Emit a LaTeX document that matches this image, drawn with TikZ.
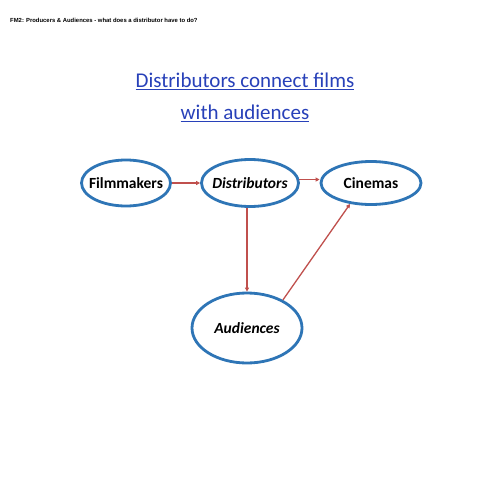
\documentclass[tikz,border=0pt]{standalone}
\usepackage{fontspec}
\setmainfont{Carlito}
\newfontfamily\hdrfont{Liberation Sans}
\usetikzlibrary{shapes.geometric,arrows.meta}
\definecolor{ovalblue}{RGB}{46,117,182}
\definecolor{linkred}{RGB}{192,80,77}
\definecolor{headblue}{RGB}{40,65,185}
\begin{document}
\begin{tikzpicture}[x=1pt, y=-1pt,
        oval/.style={ellipse, draw=ovalblue, line width=2.8pt, inner xsep=-6pt, inner ysep=0pt, font=\fontsize{15.5}{18}\selectfont\bfseries},
        link/.style={draw=linkred, line width=1.3pt, -{Triangle[length=4pt,width=4pt]}}]
        \useasboundingbox[fill=white] (0,0) rectangle (495,495);
        \node[anchor=base west, inner sep=0pt, font=\hdrfont\bfseries\fontsize{5.9}{7}\selectfont] (hdr) at (10,23) {FM2: Producers \& Audiences - what does a distributor have to do?};
        \node[align=center, text=headblue, font=\fontsize{21}{32}\selectfont] (title) at (245,97) {\underline{Distributors connect films}\\\underline{with audiences}};
        \node[oval, minimum width=89, minimum height=46] (film) at (126,183) {Filmmakers};
        \node[oval, minimum width=97, minimum height=47] (dist) at (250,183) {\itshape Distributors};
        \node[oval, minimum width=100, minimum height=43] (cin) at (371,183) {Cinemas};
        \node[oval, minimum width=110, minimum height=70] (aud) at (247,328) {\itshape Audiences};
        \draw[link] (film.east) -- (dist.west); \draw[link] (dist.4) -- (cin.west |- dist.4);
        \draw[link] (aud.north |- dist.south) -- (aud.north); \draw[link] (aud.38) -- (cin.225);
    \end{tikzpicture}
\end{document}
